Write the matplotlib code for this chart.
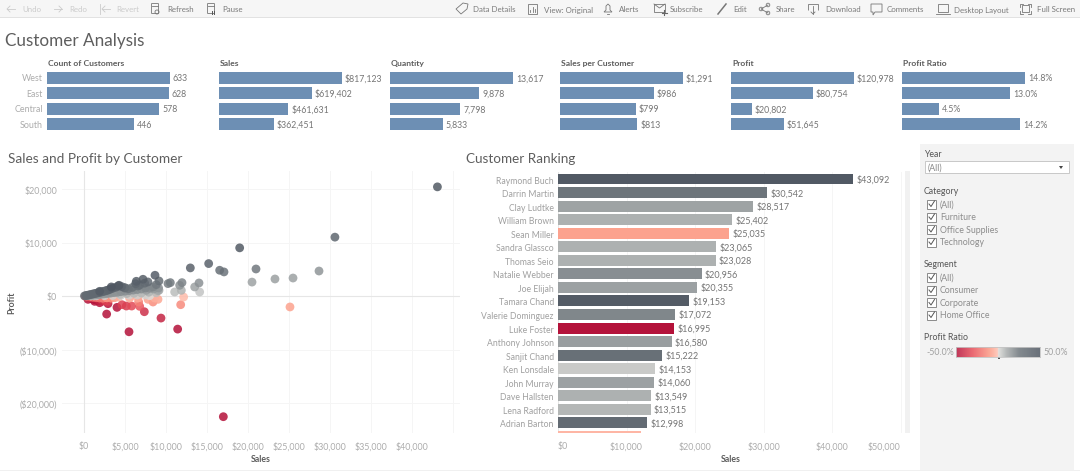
import matplotlib
matplotlib.use("Agg")
import matplotlib.pyplot as plt
import numpy as np
from matplotlib.colors import LinearSegmentedColormap, Normalize
from matplotlib.patches import Rectangle, Circle, Polygon, FancyBboxPatch

plt.rcParams['font.family'] = ['Lato', 'DejaVu Sans']

W, H = 1080, 477

# ---------- data ----------
regions = ["West", "East", "Central", "South"]
customers_count = [633, 628, 578, 446]
region_sales = [817123, 619402, 461631, 362451]
region_quantity = [13617, 9878, 7798, 5833]
sales_per_customer = [1291, 986, 799, 813]
region_profit = [120978, 80754, 20802, 51645]
profit_ratio = [14.8, 13.0, 4.5, 14.2]

rank_names = ["Raymond Buch", "Darrin Martin", "Clay Ludtke", "William Brown", "Sean Miller",
              "Sandra Glassco", "Thomas Seio", "Natalie Webber", "Joe Elijah", "Tamara Chand",
              "Valerie Dominguez", "Luke Foster", "Anthony Johnson", "Sanjit Chand", "Ken Lonsdale",
              "John Murray", "Dave Hallsten", "Lena Radford", "Adrian Barton", ""]
rank_sales = [43092, 30542, 28517, 25402, 25035, 23065, 23028, 20956, 20355, 19153,
              17072, 16995, 16580, 15222, 14153, 14060, 13549, 13515, 12998, 12100]
rank_ratio = [.48, .25, .125, .09, -.08, .09, .09, .18, .13, .46,
              .20, -.6, .14, .29, .04, .13, .09, .08, .33, -.03]

scatter_sales = [43100, 30600, 20975, 20490, 23290, 25490, 28660, 18984, 17073, 16545, 15203, 12967,
                 8659, 9146, 7805, 7195, 6382, 4268, 3333, 1910, 4960, 6585, 10244, 10528, 11951,
                 11667, 14024, 13496, 14106, 11057, 11870, 9146, 8415, 8820, 7600,
                 25120, 12150, 11790, 9024, 8415, 7805, 8618, 6585, 5570, 3740, 2724, 6667, 6790,
                 5813, 5163, 4634, 4024, 2927, 1910, 1300, 490, 2764, 7358, 9390, 11423, 5488, 16992,
                 60, 250, 400, 600, 800, 1000, 1200, 1400, 1600, 1800, 2000, 2200, 2400, 2600, 2800,
                 3000, 3200, 3500, 3900, 4200, 4600, 5000, 5400, 5900, 6300, 6800, 7400,
                 300, 500, 700, 900, 1100, 1300, 1500, 1700, 1900, 2100, 2400, 2700, 3000, 3300, 3700,
                 4100, 4500, 5000, 5500, 6000, 6500, 7000, 7500, 8000, 8500, 9000,
                 800, 1200, 1500, 2500, 3500, 4500, 5500, 6500, 7500, 8000,
                 4400, 5200, 6100, 7000, 7900, 8800, 9100,
                 200, 400, 600, 800, 1000, 1200, 1400, 1600, 1800, 2000, 2300, 2600, 2900,
                 700, 1100, 1500, 1900, 2300, 2800, 3300, 3700, 4200]
scatter_profit = [20400, 11000, 5050, 2600, 3180, 3360, 4670, 9000, 4500, 4812, 6060, 5250,
                  3875, 2812, 2625, 3125, 2750, 2000, 1690, 875, 1500, 1875, 2312, 2500, 2500,
                  2000, 2437, 1687, 750, 750, 1060, 1060, 1690, 2125, 1060,
                  -2050, -190, -1625, -625, -1125, -625, -375, -375, -375, -310, -310, -1125, -1937,
                  -1875, -1875, -1625, -2125, -1437, -1250, -1000, -625, -3375, -2937, -4125, -6187,
                  -6687, -22560,
                  20, 80, 130, 200, 270, 340, 420, 480, 560, 620, 720, 780, 880, 950, 1050,
                  1150, 1280, 1450, 1650, 1900, 1750, 1550, 1350, 1600, 2300, 2050, 2400,
                  20, 60, 90, 120, 150, 180, 200, 240, 290, 330, 380, 420, 500, 560, 620,
                  700, 800, 900, 1000, 1100, 1200, 1300, 1500, 1450, 1300, 1000,
                  20, 30, 40, 60, 90, 120, 150, 180, 200, 50,
                  300, 450, 500, 550, 700, 600, 1500,
                  -60, -150, -260, -380, -500, -620, -700, -760, -830, -880, -950, -900, -1000,
                  -200, -250, -320, -380, -420, -350, -400, -250, -200]

toolbar_items = [("Undo", 22, 1), ("Redo", 69, 1), ("Revert", 116, 1), ("Refresh", 167, 0), ("Pause", 222, 0),
                 ("Data Details", 473, 0), ("View: Original", 544, 0), ("Alerts", 619, 0), ("Subscribe", 670, 0),
                 ("Edit", 733, 0), ("Share", 776, 0), ("Download", 825, 0), ("Comments", 887, 0),
                 ("Desktop Layout", 954, 0), ("Full Screen", 1037, 0)]
category_items = ["(All)", "Furniture", "Office Supplies", "Technology"]
segment_items = ["(All)", "Consumer", "Corporate", "Home Office"]

# ---------- styles ----------
BAR = "#6d8fb4"
TXT = "#757575"
TICK = "#acacac"
HEAD = "#5c5c5c"
TITLE = "#5e5e5e"
GRID = "#f5f5f5"
ZERO = "#e6e6e6"

cmap = LinearSegmentedColormap.from_list("ratio", [
    (0.0, "#b4123a"), (0.2, "#e8505a"), (0.4, "#fb9a85"), (0.495, "#ffc0b0"),
    (0.505, "#dcdcd9"), (0.6, "#a9adad"), (0.75, "#6d757b"), (1.0, "#4f5762")])
norm = Normalize(-0.5, 0.5)

fig = plt.figure(figsize=(W / 100, H / 100), dpi=100, facecolor="white")


def ax_px(x0, y0, x1, y1, **kw):
    return fig.add_axes([x0 / W, 1 - y1 / H, (x1 - x0) / W, (y1 - y0) / H], **kw)


# ---------- chrome overlay (pixel coordinates) ----------
bg = ax_px(0, 0, W, H, zorder=0)
bg.set_xlim(0, W)
bg.set_ylim(H, 0)
bg.axis("off")
bg.add_patch(Rectangle((0, 0), W, 18, fc="#f6f6f6", ec="none"))
bg.add_patch(Rectangle((0, 0), W, 1, fc="#2f3a4a", ec="none"))
bg.add_patch(Rectangle((0, 18), W, 1, fc="#e2e2e2", ec="none"))
bg.add_patch(Rectangle((0, 471), W, 1, fc="#f0f0f0", ec="none"))

for label, x, off in toolbar_items:
    bg.text(x, 10, label, fontsize=5.7, va="center", ha="left", color="#cbcbcb" if off else "#7a7a7a")

ic = dict(color="#cbcbcb", lw=0.6)
for cx in (11, 58):
    d = -1 if cx == 11 else 1
    bg.plot([cx - 4, cx + 4], [10, 10], **ic)
    bg.plot([cx + d * 4 - d * 3, cx + d * 4, cx + d * 4 - d * 3], [7, 10, 13], **ic)
bg.plot([100, 100], [5, 15], **ic)
bg.plot([102, 110], [10, 10], **ic)
bg.plot([105, 102, 105], [7, 10, 13], **ic)

ik = dict(color="#777777", lw=0.6, fill=False)
il = dict(color="#777777", lw=0.6)
for cx in (155, 211):
    bg.add_patch(FancyBboxPatch((cx - 3, 5), 6, 9, boxstyle="round,pad=0.5", **ik))
    bg.plot([cx - 3, cx + 3], [7, 7], **il)
bg.plot([211.5, 211.5], [12, 15], color="#555555", lw=0.7)
bg.plot([213.5, 213.5], [12, 15], color="#555555", lw=0.7)
bg.add_patch(Circle((157, 13), 2, **ik))
bg.add_patch(Polygon([[456, 10], [463, 4], [468, 5], [467, 10], [461, 15]], closed=True, **ik))
bg.add_patch(Rectangle((528, 5), 9, 10, **ik))
for xb, top in ((530, 11), (532.5, 8), (535, 10)):
    bg.plot([xb, xb], [13, top], **il)
bg.add_patch(Polygon([[604, 13], [606, 11], [606, 7], [608, 5], [610, 7], [610, 11], [612, 13]], closed=True, **ik))
bg.plot([607, 609], [15, 15], **il)
bg.add_patch(Rectangle((654, 5), 11, 8, **ik))
bg.plot([654, 659.5, 665], [5, 9, 5], **il)
bg.plot([664, 664], [11, 16], color="#666666", lw=0.8)
bg.plot([661.5, 666.5], [13.5, 13.5], color="#666666", lw=0.8)
bg.plot([718, 726], [15, 5], color="#777777", lw=1.1)
for px_, py_ in ((761, 10), (768, 6), (768, 14)):
    bg.add_patch(Circle((px_, py_), 1.8, **ik))
bg.plot([768, 761, 768], [6, 10, 14], **il)
bg.add_patch(Polygon([[808, 11], [808, 5], [818, 5], [818, 11]], closed=False, **ik))
bg.plot([813, 813], [7, 15], **il)
bg.plot([811, 813, 815], [13, 15, 13], **il)
bg.add_patch(Polygon([[871, 5], [882, 5], [882, 13], [875, 13], [873, 16], [873, 13], [871, 13]], closed=True, **ik))
bg.add_patch(Rectangle((938, 5), 10, 8, **ik))
bg.plot([936, 950], [15, 15], **il)
bg.add_patch(Rectangle((1022, 6), 7, 7, **ik))
for xs, ys in (([1020, 1020, 1023], [8, 5, 5]), ([1028, 1031, 1031], [5, 5, 8]),
               ([1020, 1020, 1023], [12, 15, 15]), ([1028, 1031, 1031], [15, 15, 12])):
    bg.plot(xs, ys, **il)

bg.text(5, 41, "Customer Analysis", fontsize=12.3, color=TITLE, va="center", ha="left")
bg.text(8, 159, "Sales and Profit by Customer", fontsize=9.8, color=TITLE, va="center", ha="left")
bg.text(466, 159, "Customer Ranking", fontsize=9.7, color=TITLE, va="center", ha="left")

# ---------- filter panel ----------
bg.add_patch(Rectangle((920, 145), 154, 326, fc="#f3f3f3", ec="none"))
SIDE = dict(fontsize=6.3, va="center", ha="left")
bg.text(924, 155, "Year", color="#555555", **SIDE)
bg.add_patch(Rectangle((925, 162), 144, 12, fc="white", ec="#c8c8c8", lw=0.7))
bg.text(928, 168, "(All)", color="#888888", **SIDE)
bg.add_patch(Polygon([[1059, 167], [1063, 167], [1061, 170]], closed=True, fc="#444444", ec="none"))


def checks(title, y_title, items, y_rows):
    bg.text(924, y_title, title, color="#555555", **SIDE)
    for it, y in zip(items, y_rows):
        bg.add_patch(Rectangle((927, y - 4.5), 9, 9, fc="white", ec="#8a8a8a", lw=0.7))
        bg.plot([929, 931, 934.5], [y, y + 2.5, y - 3], color="#555555", lw=0.7)
        bg.text(940, y, it, color="#8c8c8c", **SIDE)


checks("Category", 192, category_items, [205, 218, 230.5, 243])
checks("Segment", 265, segment_items, [278, 291, 303.5, 316])
bg.text(924, 338, "Profit Ratio", color="#555555", **SIDE)
bg.text(926, 352.5, "-50.0%", color="#a0a0a0", **SIDE)
bg.text(1043, 352.5, "50.0%", color="#a0a0a0", **SIDE)

leg = ax_px(956, 348, 1040, 358, zorder=2)
leg.imshow(np.linspace(0, 1, 256)[None, :], aspect="auto", cmap=cmap, alpha=0.85)
leg.set_xticks([])
leg.set_yticks([])
for s in leg.spines.values():
    s.set_color("#c4c4c4")
    s.set_linewidth(0.6)
bg.add_patch(Rectangle((997.5, 358), 2, 2, fc="#555555", ec="none"))

# ---------- top bars ----------
panels = [("Count of Customers", customers_count, 47, "{:,.0f}"),
          ("Sales", region_sales, 219, "${:,.0f}"),
          ("Quantity", region_quantity, 390, "{:,.0f}"),
          ("Sales per Customer", sales_per_customer, 560, "${:,.0f}"),
          ("Profit", region_profit, 731, "${:,.0f}"),
          ("Profit Ratio", profit_ratio, 902, "{:.1f}%")]
for idx, (name, vals, x0, fmt) in enumerate(panels):
    ax = ax_px(x0, 71, x0 + 123, 133, zorder=1)
    ax.patch.set_alpha(0)
    pos = np.arange(len(regions))
    ax.barh(pos, vals, height=0.78, color=BAR, edgecolor="none")
    ax.set_xlim(0, max(vals))
    ax.set_ylim(3.5, -0.5)
    ax.axis("off")
    for p, v in zip(pos, vals):
        ax.annotate(fmt.format(v), (v, p), xytext=(2.0, 0), textcoords="offset points",
                    va="center", ha="left", fontsize=6.3, color=TXT, annotation_clip=False)
    bg.text(x0 + 1, 63.5, name, fontsize=6.1, fontweight="bold", color=HEAD, va="center", ha="left")
    if idx == 0:
        for p, r in zip(pos, regions):
            ax.annotate(r, (0, p), xytext=(-3, 0), textcoords="offset points", va="center", ha="right",
                        fontsize=6.4, color=TICK, annotation_clip=False)

# ---------- scatter ----------
ax = ax_px(62, 172, 460, 434, zorder=1)
ax.patch.set_alpha(0)
ax.set_xlim((62 - 84) / 8.2 * 1000, (460 - 84) / 8.2 * 1000)
ax.set_ylim((297 - 434) / 5.35 * 1000, (297 - 172) / 5.35 * 1000)
ax.grid(True, color=GRID, lw=0.7)
ax.set_axisbelow(True)
ax.axvline(0, color=ZERO, lw=0.8, zorder=1)
ax.axhline(0, color=ZERO, lw=0.8, zorder=1)
ss = np.array(scatter_sales, float)
sp = np.array(scatter_profit, float)
ratio = sp / ss
order = np.argsort(ratio)
ax.scatter(ss[order], sp[order], c=ratio[order], cmap=cmap, norm=norm, s=40, alpha=0.85, linewidths=0, zorder=3)
ax.set_xticks(np.arange(0, 45001, 5000))
ax.set_xticklabels([f"${v:,.0f}" for v in range(0, 45000, 5000)] + [""])
ax.set_yticks([-20000, -10000, 0, 10000, 20000])
ax.set_yticklabels(["($20,000)", "($10,000)", "$0", "$10,000", "$20,000"])
ax.tick_params(length=0, labelsize=6.4, labelcolor=TICK)
ax.tick_params(axis="y", pad=3.5)
ax.tick_params(axis="x", pad=6)
for s in ax.spines.values():
    s.set_visible(False)
bg.text(261, 460, "Sales", fontsize=6.3, fontweight="bold", color=HEAD, ha="center", va="center")
bg.text(12, 303, "Profit", fontsize=6.3, fontweight="bold", color=HEAD, ha="center", va="center", rotation=90)

# ---------- ranking ----------
ax = ax_px(558, 173, 905, 434, zorder=1)
ax.patch.set_alpha(0)
step = 13.55
ax.set_xlim(0, (905 - 558) / 6.85 * 1000)
ax.set_ylim((434 - 180) / step, (173 - 180) / step)
pos = np.arange(len(rank_names))
ax.barh(pos, rank_sales, height=0.81, color=cmap(norm(rank_ratio)), edgecolor="none", zorder=2)
ax.grid(True, axis="x", color=GRID, lw=0.7)
ax.set_axisbelow(True)
ax.axvline(0, color=ZERO, lw=0.8, zorder=1)
for p, n, v in zip(pos, rank_names, rank_sales):
    if n:
        ax.annotate(f"${v:,.0f}", (v, p), xytext=(2.4, 0), textcoords="offset points", va="center",
                    ha="left", fontsize=6.5, color=TXT, annotation_clip=False)
ax.set_yticks(pos[:-1])
ax.set_yticklabels(rank_names[:-1])
ax.set_xticks(np.arange(0, 50001, 10000))
ax.set_xticklabels([f"${v:,.0f}" for v in range(0, 50001, 10000)])
ax.tick_params(length=0, labelsize=6.4, labelcolor=TICK)
ax.tick_params(axis="y", pad=3, labelsize=6.2, labelcolor="#a0a0a0")
ax.tick_params(axis="x", pad=6)
xl = ax.get_xticklabels()
xl[0].set_ha("left")
xl[-1].set_ha("right")
for s in ax.spines.values():
    s.set_visible(False)
bg.add_patch(Rectangle((905, 172), 5, 262, fc="#f1f1f1", ec="none"))
bg.text(731, 460, "Sales", fontsize=6.3, fontweight="bold", color=HEAD, ha="center", va="center")

fig.savefig("out.png", dpi=100)
